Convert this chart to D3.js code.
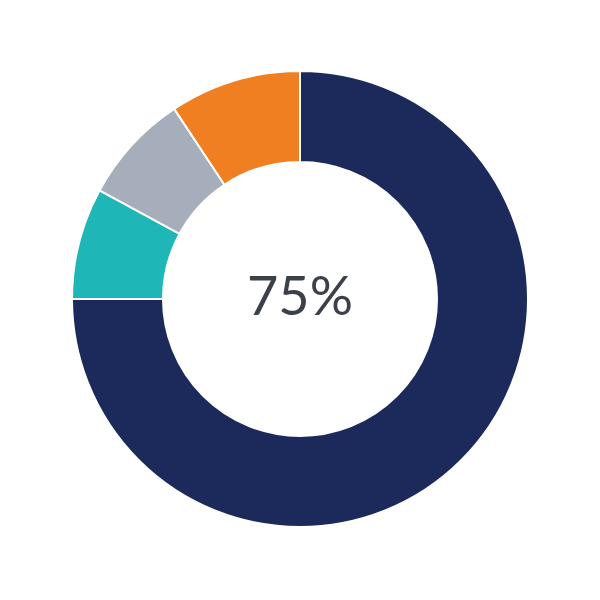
<!DOCTYPE html>
<html><head><meta charset="utf-8">
<script src="https://cdn.jsdelivr.net/npm/d3@7"></script>
<style>body{margin:0;background:#fff}</style>
</head><body><svg id="c" width="600" height="600"></svg>
<script>
const categories = ["A", "B", "C", "D"];
const values = [75, 7.9, 7.8, 9.3];
const colors = ["#1b2a5a", "#1eb6b7", "#a6aebc", "#f07f22"];
const centerLabel = "75%";

const svg = d3.select("#c");
const g = svg.append("g").attr("transform", "translate(300,299)");
const pie = d3.pie().sort(null).value(d => d.v);
const arc = d3.arc().innerRadius(137).outerRadius(228);
const data = categories.map((c, i) => ({c, v: values[i], col: colors[i]}));
g.selectAll("path").data(pie(data)).join("path")
  .attr("d", arc).attr("fill", d => d.data.col)
  .attr("stroke", "#fff").attr("stroke-width", 2);
g.append("text").attr("y", 16).attr("text-anchor", "middle")
  .attr("font-family", "Lato, sans-serif").attr("font-size", 54)
  .attr("fill", "#3b404b").text(centerLabel);
</script></body></html>
